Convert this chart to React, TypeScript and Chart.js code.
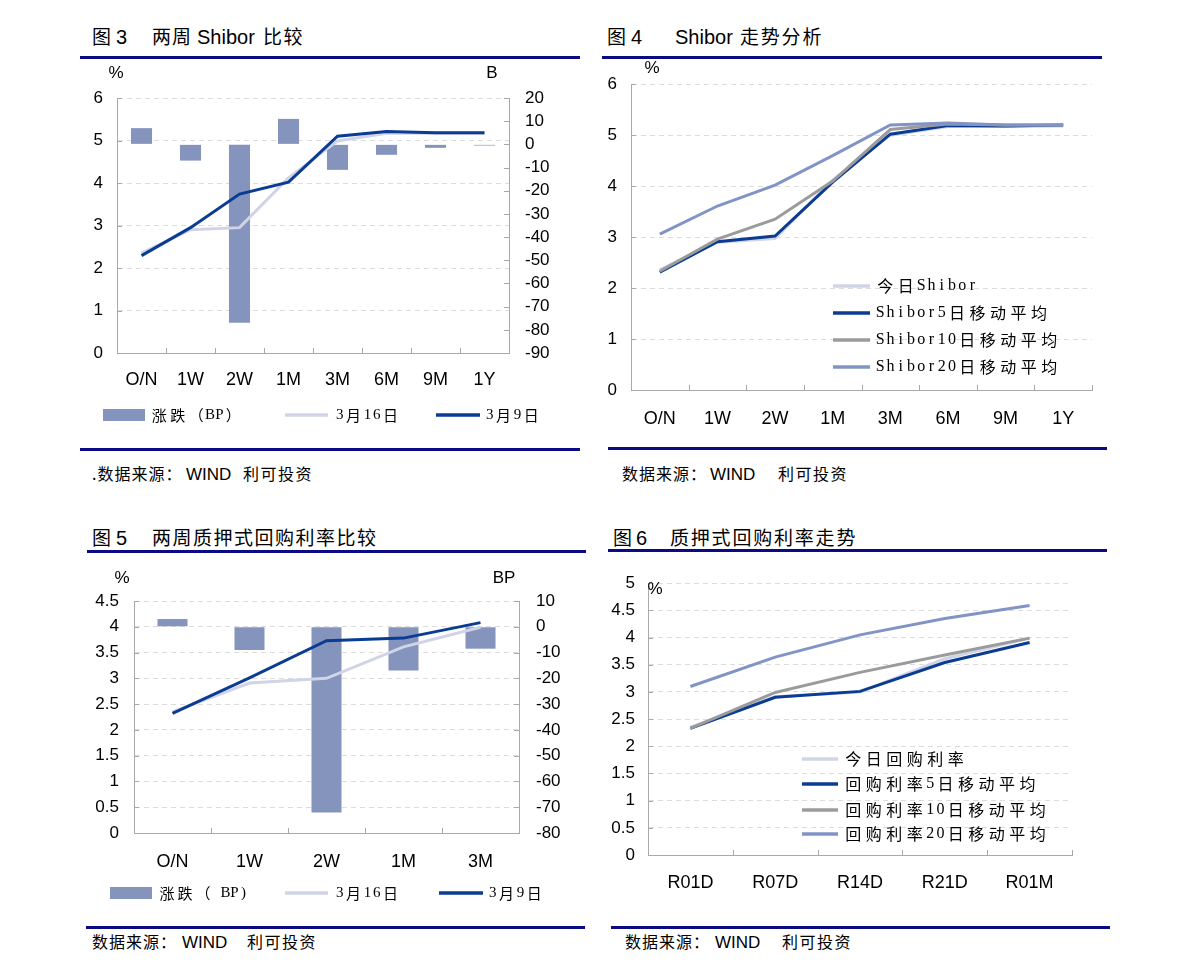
import React, { useEffect, useRef } from 'react';
import { Chart, registerables } from 'chart.js';

Chart.register(...registerables);

// ---------------- data ----------------
const shiborTerms = ['O/N', '1W', '2W', '1M', '3M', '6M', '9M', '1Y'];
const shiborChangeBP = [7, -7, -77, 11, -11, -4.5, -1.5, -0.5];
const shiborMar16 = [2.35, 2.9, 2.95, 4.12, 4.99, 5.17, 5.17, 5.17];
const shiborMar09 = [2.29, 2.95, 3.74, 4.02, 5.1, 5.21, 5.18, 5.18];

const shiborToday = [2.36, 2.9, 2.97, 4.12, 5.0, 5.17, 5.17, 5.18];
const shiborMA5 = [2.31, 2.91, 3.02, 4.08, 5.02, 5.19, 5.18, 5.2];
const shiborMA10 = [2.33, 2.96, 3.35, 4.1, 5.11, 5.22, 5.2, 5.2];
const shiborMA20 = [3.06, 3.61, 4.02, 4.6, 5.2, 5.24, 5.2, 5.2];

const repoTerms = ['O/N', '1W', '2W', '1M', '3M'];
const repoChangeBP = [3, -9, -72, -17, -8.5];
const repoMar16 = [2.35, 2.91, 3.0, 3.61, 3.99];
const repoMar09 = [2.32, 3.01, 3.73, 3.78, 4.08];

const repoCodes = ['R01D', 'R07D', 'R14D', 'R21D', 'R01M'];
const repoToday = [2.35, 2.91, 3.0, 3.61, 3.99];
const repoMA5 = [2.33, 2.9, 3.01, 3.54, 3.91];
const repoMA10 = [2.33, 2.99, 3.36, 3.68, 3.99];
const repoMA20 = [3.1, 3.64, 4.05, 4.35, 4.59];

// tick ranges (min, max, step)
const pctTicksA = [0, 6, 1];
const bpTicksA = [-90, 20, 10];
const pctTicksB = [0, 6, 1];
const pctTicksC = [0, 4.5, 0.5];
const bpTicksC = [-80, 10, 10];
const pctTicksD = [0, 5, 0.5];

// ---------------- styles ----------------
const SANS = '"Liberation Sans", Arial, Helvetica, sans-serif';
const CJK = '"Noto Sans CJK SC", "Noto Sans CJK JP", sans-serif';
const SERIF = '"Liberation Serif", "DejaVu Serif", serif';
const AXIS = '#a9a9a9';
const GRID = '#dcdcdc';
const RULE = '#0a0a85';
const C_BAR = '#8594bd';
const C_LIGHT = '#d0d4e6';
const C_DARK = '#0b3c93';
const C_GRAY = '#9b9b9b';
const C_MA20 = '#8294c6';

function isFull(ch: string) {
  return ch.charCodeAt(0) > 0xff;
}

function drawSpaced(ctx: any, text: string, x: number, y: number, em: number, size: number) {
  let cx = x;
  ctx.save();
  ctx.fillStyle = '#000';
  ctx.textBaseline = 'middle';
  ctx.textAlign = 'center';
  for (const ch of text) {
    const full = isFull(ch);
    const adv = full ? em : em / 2;
    if (ch !== ' ') {
      ctx.font = `${size}px ${full ? CJK : SERIF}`;
      ctx.fillText(ch, cx + adv / 2, y);
    }
    cx += adv;
  }
  ctx.restore();
}

const extrasPlugin = {
  id: 'extras',
  afterDraw(chart: any, _args: any, o: any) {
    const ctx = chart.ctx;
    const ca = chart.chartArea;
    ctx.save();
    ctx.strokeStyle = AXIS;
    ctx.lineWidth = 1;
    ctx.setLineDash([]);
    ctx.beginPath();
    const n = chart.data.labels.length;
    const cw = (ca.right - ca.left) / n;
    for (let i = 1; i <= n; i++) {
      if (i === n && !o.xEndTick) continue;
      const px = Math.round(ca.left + i * cw) + 0.5;
      ctx.moveTo(px, ca.bottom - 5);
      ctx.lineTo(px, ca.bottom);
    }
    ['y', 'y1'].forEach((id) => {
      const s = chart.scales[id];
      if (!s) return;
      s.ticks.forEach((t: any) => {
        const py = Math.round(s.getPixelForValue(t.value)) + 0.5;
        if (s.position === 'left') {
          ctx.moveTo(ca.left, py);
          ctx.lineTo(ca.left + 5, py);
        } else {
          ctx.moveTo(ca.right - 5, py);
          ctx.lineTo(ca.right, py);
        }
      });
    });
    ctx.stroke();

    ctx.fillStyle = '#000';
    ctx.font = `17px ${SANS}`;
    ctx.textAlign = 'center';
    ctx.textBaseline = 'middle';
    (o.units || []).forEach((u: any) => ctx.fillText(u.text, u.x - o.ox, u.y - o.oy));

    (o.legend || []).forEach((it: any) => {
      const ds = chart.data.datasets[it.index];
      const y = it.y - o.oy;
      if (it.kind === 'box') {
        ctx.fillStyle = ds.backgroundColor;
        ctx.fillRect(it.x0 - o.ox, y - 6, it.x1 - it.x0, 12);
      } else {
        ctx.strokeStyle = ds.borderColor;
        ctx.lineWidth = 3.5;
        ctx.beginPath();
        ctx.moveTo(it.x0 - o.ox, y);
        ctx.lineTo(it.x1 - o.ox, y);
        ctx.stroke();
      }
      drawSpaced(ctx, ds.label, it.tx - o.ox, y, it.em, it.size);
    });
    ctx.restore();
  },
};

function lineDs(label: string, data: number[], color: string, order: number) {
  return {
    type: 'line',
    label,
    data,
    borderColor: color,
    backgroundColor: color,
    borderWidth: 3,
    pointRadius: 0,
    pointHoverRadius: 0,
    tension: 0,
    fill: false,
    yAxisID: 'y',
    order,
  };
}

function buildConfig(p: any) {
  const { box, area } = p;
  const scales: any = {
    x: {
      type: 'category',
      offset: true,
      grid: { display: true, drawOnChartArea: false, drawTicks: false },
      border: { display: true, color: AXIS, width: 1 },
      ticks: {
        padding: p.xPad,
        color: '#000',
        font: { family: SANS, size: 18 },
        maxRotation: 0,
        autoSkip: false,
      },
      afterFit: (s: any) => {
        s.height = box.y + box.h - area.b;
      },
    },
    y: {
      type: 'linear',
      position: 'left',
      min: p.yTicks[0],
      max: p.yTicks[1],
      ticks: {
        stepSize: p.yTicks[2],
        maxTicksLimit: 30,
        autoSkip: false,
        padding: p.yPad,
        color: '#000',
        font: { family: SANS, size: 17 },
        callback: (v: any) => String(v),
      },
      grid: { color: GRID, drawTicks: false, lineWidth: 1 },
      border: { display: true, color: AXIS, width: 1, dash: [5, 4] },
      afterFit: (s: any) => {
        s.width = area.l - box.x;
      },
    },
  };
  if (p.y1Ticks) {
    scales.y1 = {
      type: 'linear',
      position: 'right',
      min: p.y1Ticks[0],
      max: p.y1Ticks[1],
      ticks: {
        stepSize: p.y1Ticks[2],
        maxTicksLimit: 30,
        autoSkip: false,
        padding: p.y1Pad,
        color: '#000',
        font: { family: SANS, size: 17 },
        callback: (v: any) => String(v),
      },
      grid: { drawOnChartArea: false, drawTicks: false },
      border: { display: true, color: AXIS, width: 1 },
      afterFit: (s: any) => {
        s.width = box.x + box.w - area.r;
      },
    };
  }
  return {
    type: p.type,
    data: { labels: p.labels, datasets: p.datasets },
    options: {
      responsive: false,
      maintainAspectRatio: false,
      animation: false,
      devicePixelRatio: 1,
      layout: {
        padding: {
          top: area.t - box.y,
          left: 0,
          right: p.y1Ticks ? 0 : box.x + box.w - area.r,
          bottom: 0,
        },
      },
      scales,
      plugins: {
        legend: { display: false },
        tooltip: { enabled: false },
        extras: {
          ox: box.x,
          oy: box.y,
          units: p.units,
          legend: p.legend,
          xEndTick: p.xEndTick,
        },
      },
    },
    plugins: [extrasPlugin],
  };
}

// ---------------- panel configs ----------------
const boxA = { x: 80, y: 60, w: 510, h: 385 };
const areaA = { l: 117, r: 509, t: 98, b: 353 };
const boxB = { x: 595, y: 60, w: 515, h: 385 };
const areaB = { l: 631, r: 1092, t: 84, b: 390 };
const boxC = { x: 80, y: 560, w: 510, h: 362 };
const areaC = { l: 134, r: 519, t: 601, b: 833 };
const boxD = { x: 600, y: 560, w: 510, h: 362 };
const areaD = { l: 648, r: 1072, t: 579, b: 855 };

const cfgA = () =>
  buildConfig({
    type: 'bar',
    box: boxA,
    area: areaA,
    labels: shiborTerms,
    yTicks: pctTicksA,
    y1Ticks: bpTicksA,
    yPad: 14,
    y1Pad: 16,
    xPad: 16,
    datasets: [
      {
        type: 'bar',
        label: '涨跌（BP）',
        data: shiborChangeBP,
        backgroundColor: C_BAR,
        borderWidth: 0,
        barPercentage: 0.43,
        categoryPercentage: 1,
        yAxisID: 'y1',
        order: 3,
      },
      lineDs('3月16日', shiborMar16, C_LIGHT, 2),
      lineDs('3月9日', shiborMar09, C_DARK, 1),
    ],
    units: [
      { text: '%', x: 116, y: 73 },
      { text: 'B', x: 492, y: 73 },
    ],
    legend: [
      { index: 0, kind: 'box', x0: 103, x1: 145, y: 415, tx: 150, em: 18.5, size: 15 },
      { index: 1, kind: 'line', x0: 285, x1: 328, y: 415, tx: 335, em: 18.5, size: 15 },
      { index: 2, kind: 'line', x0: 436, x1: 480, y: 415, tx: 485, em: 18.5, size: 15 },
    ],
    xEndTick: false,
  });

const cfgB = () =>
  buildConfig({
    type: 'line',
    box: boxB,
    area: areaB,
    labels: shiborTerms,
    yTicks: pctTicksB,
    yPad: 14,
    xPad: 18,
    datasets: [
      lineDs('今日Shibor', shiborToday, C_LIGHT, 4),
      lineDs('Shibor5日移动平均', shiborMA5, C_DARK, 3),
      lineDs('Shibor10日移动平均', shiborMA10, C_GRAY, 2),
      lineDs('Shibor20日移动平均', shiborMA20, C_MA20, 1),
    ],
    units: [{ text: '%', x: 652, y: 68 }],
    legend: [
      { index: 0, kind: 'line', x0: 833, x1: 870, y: 286, tx: 875, em: 20.5, size: 16 },
      { index: 1, kind: 'line', x0: 833, x1: 870, y: 313, tx: 875, em: 20.5, size: 16 },
      { index: 2, kind: 'line', x0: 833, x1: 870, y: 340, tx: 875, em: 20.5, size: 16 },
      { index: 3, kind: 'line', x0: 833, x1: 870, y: 367, tx: 875, em: 20.5, size: 16 },
    ],
    xEndTick: true,
  });

const cfgC = () =>
  buildConfig({
    type: 'bar',
    box: boxC,
    area: areaC,
    labels: repoTerms,
    yTicks: pctTicksC,
    y1Ticks: bpTicksC,
    yPad: 15,
    y1Pad: 17,
    xPad: 18,
    datasets: [
      {
        type: 'bar',
        label: '涨跌（ BP)',
        data: repoChangeBP,
        backgroundColor: C_BAR,
        borderWidth: 0,
        barPercentage: 0.39,
        categoryPercentage: 1,
        yAxisID: 'y1',
        order: 3,
      },
      lineDs('3月16日', repoMar16, C_LIGHT, 2),
      lineDs('3月9日', repoMar09, C_DARK, 1),
    ],
    units: [
      { text: '%', x: 122, y: 578 },
      { text: 'BP', x: 504, y: 578 },
    ],
    legend: [
      { index: 0, kind: 'box', x0: 110, x1: 152, y: 893, tx: 158, em: 18, size: 15 },
      { index: 1, kind: 'line', x0: 285, x1: 328, y: 893, tx: 335, em: 18.5, size: 15 },
      { index: 2, kind: 'line', x0: 439, x1: 483, y: 893, tx: 488, em: 18.5, size: 15 },
    ],
    xEndTick: false,
  });

const cfgD = () =>
  buildConfig({
    type: 'line',
    box: boxD,
    area: areaD,
    labels: repoCodes,
    yTicks: pctTicksD,
    yPad: 13,
    xPad: 17,
    datasets: [
      lineDs('今日回购利率', repoToday, C_LIGHT, 4),
      lineDs('回购利率5日移动平均', repoMA5, C_DARK, 3),
      lineDs('回购利率10日移动平均', repoMA10, C_GRAY, 2),
      lineDs('回购利率20日移动平均', repoMA20, C_MA20, 1),
    ],
    units: [{ text: '%', x: 655, y: 589 }],
    legend: [
      { index: 0, kind: 'line', x0: 802, x1: 838, y: 759, tx: 843, em: 20.5, size: 16 },
      { index: 1, kind: 'line', x0: 802, x1: 838, y: 784, tx: 843, em: 20.5, size: 16 },
      { index: 2, kind: 'line', x0: 802, x1: 838, y: 810, tx: 843, em: 20.5, size: 16 },
      { index: 3, kind: 'line', x0: 802, x1: 838, y: 834, tx: 843, em: 20.5, size: 16 },
    ],
    xEndTick: true,
  });

// ---------------- components ----------------
function ChartCanvas({ box, make }: any) {
  const ref = useRef<HTMLCanvasElement | null>(null);
  useEffect(() => {
    const chart = new Chart(ref.current as any, make() as any);
    return () => chart.destroy();
  }, []);
  return (
    <canvas
      ref={ref}
      width={box.w}
      height={box.h}
      style={{ position: 'absolute', left: box.x, top: box.y, width: box.w, height: box.h }}
    />
  );
}

function Txt({ x, y, children, size = 19, family = CJK, spacing = 0 }: any) {
  return (
    <div
      style={{
        position: 'absolute',
        left: x,
        top: y - 15,
        height: 30,
        lineHeight: '30px',
        fontSize: size,
        fontFamily: family,
        letterSpacing: spacing,
        whiteSpace: 'nowrap',
        color: '#000',
      }}
    >
      {children}
    </div>
  );
}

function Rule({ x1, x2, y }: any) {
  return (
    <div
      style={{ position: 'absolute', left: x1, top: y - 1.5, width: x2 - x1, height: 3, background: RULE }}
    />
  );
}

function Source({ x1, x2, x3, y, dot }: any) {
  return (
    <>
      <Txt x={x1} y={y} size={16} spacing={1}>
        {dot ? '.数据来源：' : '数据来源：'}
      </Txt>
      <Txt x={x2} y={y + 1.5} size={17} family={SANS}>
        WIND
      </Txt>
      <Txt x={x3} y={y} size={16} spacing={1.5}>
        利可投资
      </Txt>
    </>
  );
}

export default function App() {
  return (
    <div
      style={{
        position: 'absolute',
        left: 0,
        top: 0,
        width: 1191,
        height: 971,
        background: '#fff',
        overflow: 'hidden',
      }}
    >
      {/* Panel A titles */}
      <Txt x={92} y={36}>图</Txt>
      <Txt x={116} y={37} size={20} family={SANS}>3</Txt>
      <Txt x={152} y={36} spacing={1}>两周</Txt>
      <Txt x={197} y={37} size={20} family={SANS}>Shibor</Txt>
      <Txt x={263} y={36} spacing={1.5}>比较</Txt>
      <Rule x1={80} x2={580} y={57.5} />
      <Rule x1={80} x2={580} y={449} />
      <Source x1={92} x2={186} x3={243} y={473} dot />

      {/* Panel B titles */}
      <Txt x={607} y={36}>图</Txt>
      <Txt x={631} y={37} size={20} family={SANS}>4</Txt>
      <Txt x={675} y={37} size={20} family={SANS}>Shibor</Txt>
      <Txt x={740} y={36} spacing={1.8}>走势分析</Txt>
      <Rule x1={602} x2={1102} y={57.5} />
      <Rule x1={608} x2={1107} y={448.5} />
      <Source x1={622} x2={710} x3={778} y={473} />

      {/* Panel C titles */}
      <Txt x={92} y={537}>图</Txt>
      <Txt x={116} y={538} size={20} family={SANS}>5</Txt>
      <Txt x={152} y={537} spacing={1.5}>两周质押式回购利率比较</Txt>
      <Rule x1={87} x2={586} y={551.5} />
      <Rule x1={86} x2={585} y={927} />
      <Source x1={92} x2={182} x3={247} y={941} />

      {/* Panel D titles */}
      <Txt x={613} y={537}>图</Txt>
      <Txt x={636} y={538} size={20} family={SANS}>6</Txt>
      <Txt x={670} y={537} spacing={1.8}>质押式回购利率走势</Txt>
      <Rule x1={608} x2={1107} y={550.5} />
      <Rule x1={611} x2={1110} y={927} />
      <Source x1={625} x2={715} x3={782} y={941} />

      <ChartCanvas box={boxA} make={cfgA} />
      <ChartCanvas box={boxB} make={cfgB} />
      <ChartCanvas box={boxC} make={cfgC} />
      <ChartCanvas box={boxD} make={cfgD} />
    </div>
  );
}
